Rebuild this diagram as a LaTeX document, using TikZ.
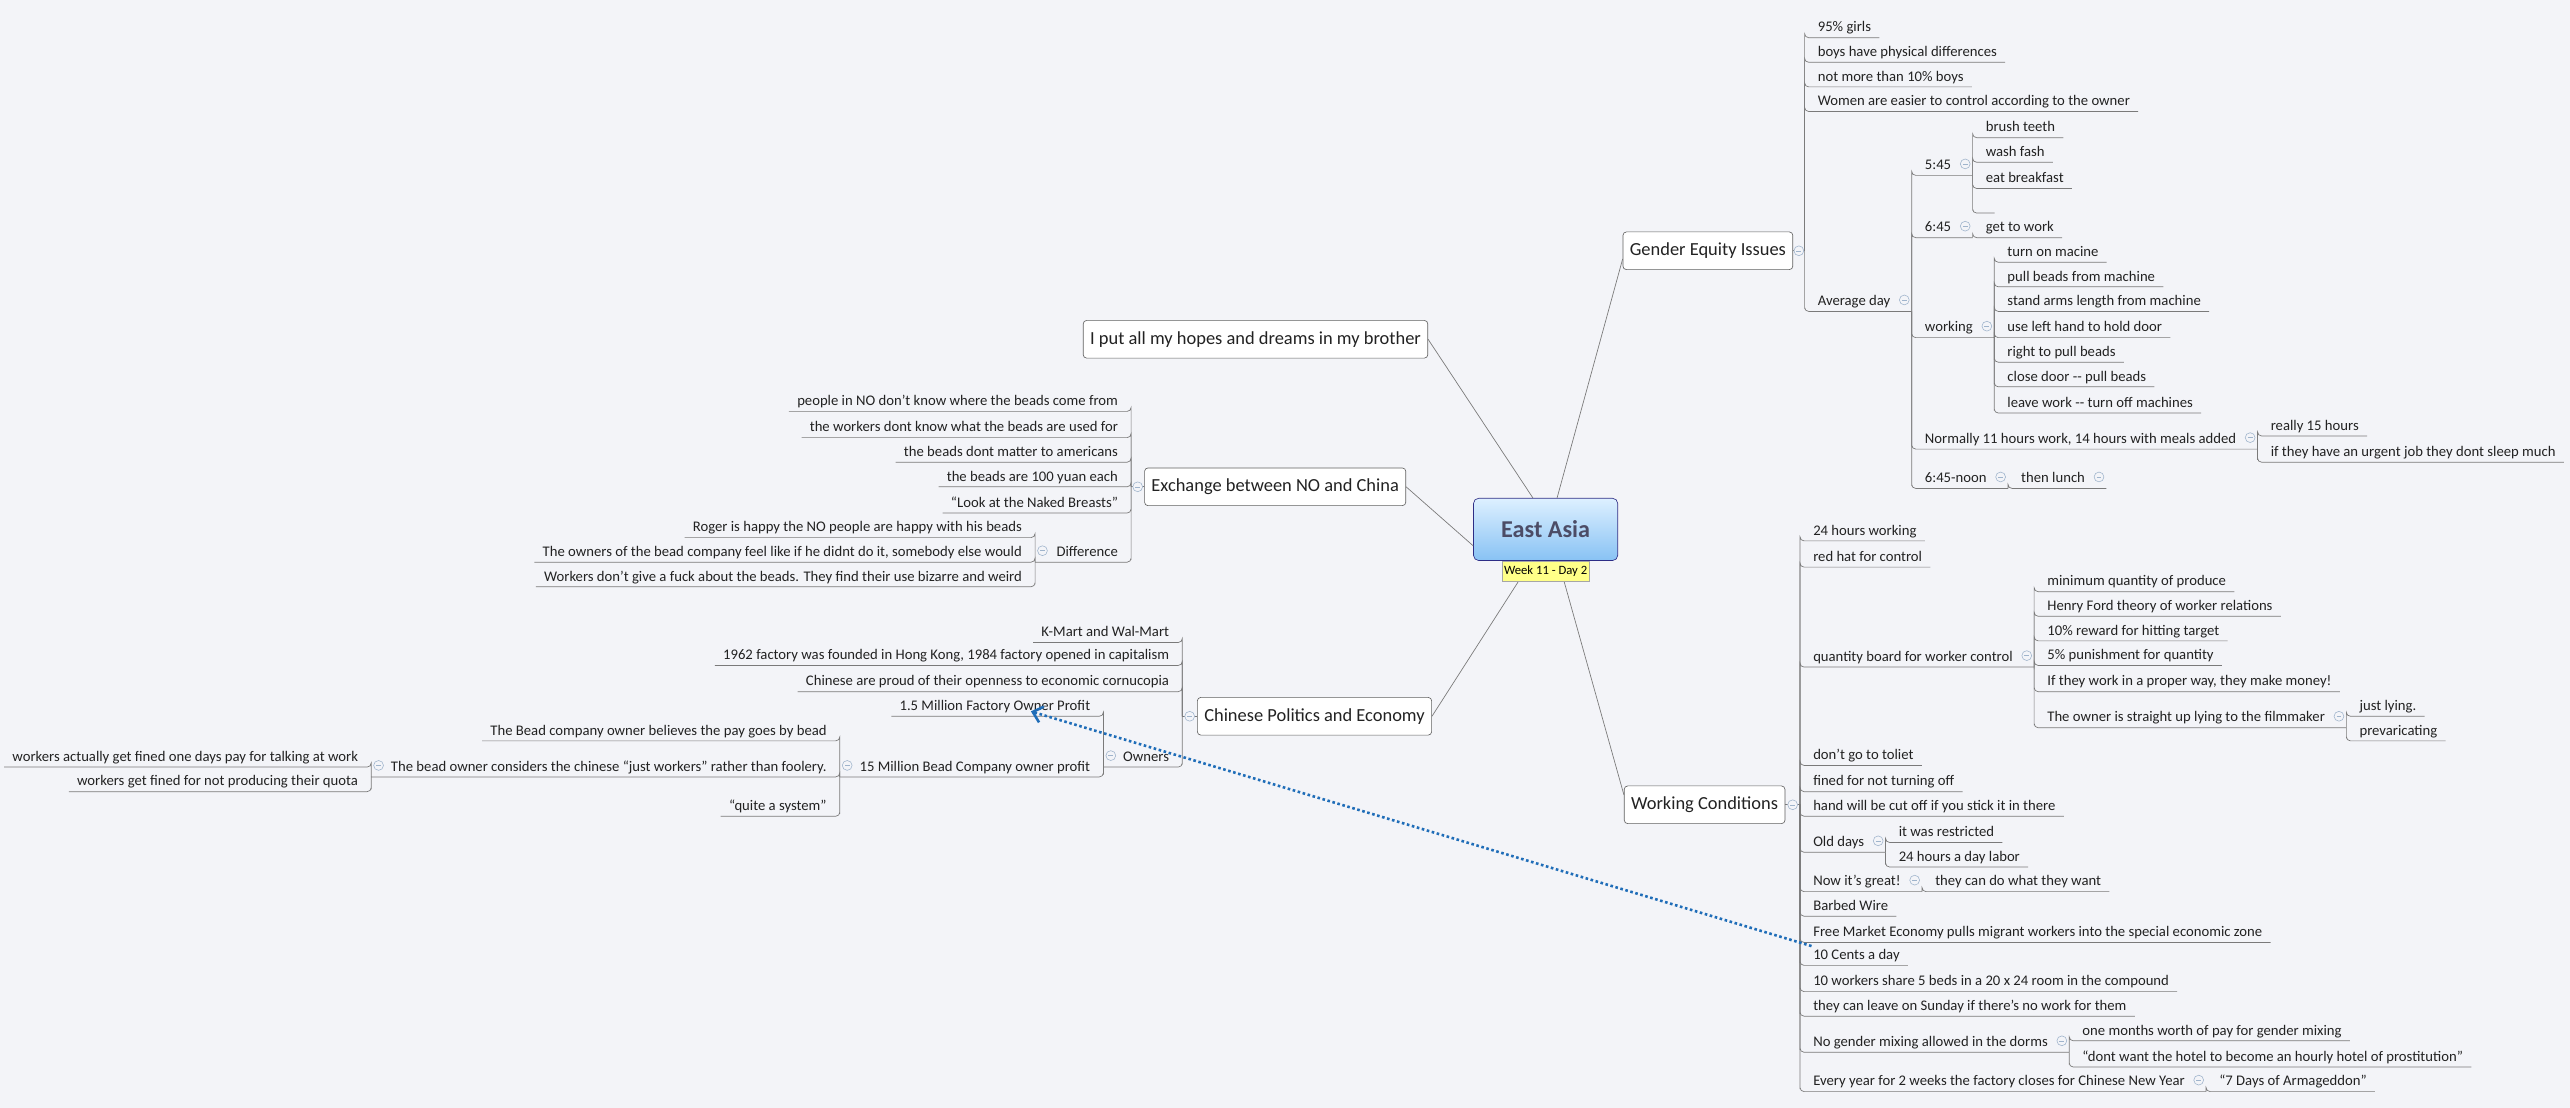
\documentclass[tikz,border=0pt]{standalone}
\usepackage{fontspec}
\setmainfont{Carlito}
\usetikzlibrary{calc,arrows.meta,shadows}
\definecolor{bg}{HTML}{F3F4F8}
\definecolor{ln}{HTML}{7A7A7A}
\definecolor{txt}{HTML}{222222}
\definecolor{collc}{HTML}{9FB4CC}
\definecolor{arrc}{HTML}{1F6DB8}
\definecolor{ctop}{HTML}{DDF0FF}
\definecolor{cbot}{HTML}{88C2F4}
\definecolor{wk}{HTML}{FFFF88}
\tikzset{
 leaf/.style={inner sep=0pt,font=\fontsize{25.5}{30}\selectfont,text=txt},
 conn/.style={draw=ln,line width=1.2pt},
 topic/.style={draw=gray!75!black,fill=white,rounded corners=6pt,font=\fontsize{32}{38}\selectfont,text=txt,inner xsep=0.42cm,minimum height=2.3cm,line width=1.1pt},
 central/.style={draw=gray!50!blue!70!black,top color=ctop,bottom color=cbot,rounded corners=9pt,font=\bfseries\fontsize{42}{48}\selectfont,text=black!75!blue!40!gray,minimum width=8.8cm,minimum height=3.8cm,line width=1.1pt},
 weekl/.style={draw=gray!70,fill=wk,font=\fontsize{22}{26}\selectfont,inner xsep=0.12cm,minimum height=1.2cm,line width=0.8pt},
 coll/.style={draw=collc,fill=bg,line width=1pt},
 arrowc/.style={draw=arrc,line width=4.5pt,dash pattern=on 4.5pt off 4.5pt,-{Straight Barb[length=0.55cm,width=1.0cm]}}
}
\makeatletter
\def\rleaf{\@ifnextchar[\rleaf@i{\rleaf@i[0.5cm]}}
\def\rleaf@i[#1]#2#3#4#5{%
 \coordinate (#2y) at (0,#4);
 \coordinate (#2ul) at (#3 |- #2y);
 \node[leaf,anchor=base west] (#2) at ($(#2ul)+(8,-3.5)$) {#5};
 \coordinate (#2e) at ([xshift=#1]#2.east |- #2ul);
 \draw[conn,rounded corners=7pt] (#3) |- (#2ul) -- (#2e);}
\def\lleaf{\@ifnextchar[\lleaf@i{\lleaf@i[0.5cm]}}
\def\lleaf@i[#1]#2#3#4#5{%
 \coordinate (#2y) at (0,#4);
 \coordinate (#2ul) at (#3 |- #2y);
 \node[leaf,anchor=base east] (#2) at ($(#2ul)+(-8,-3.5)$) {#5};
 \coordinate (#2e) at ([xshift=-#1]#2.west |- #2ul);
 \draw[conn,rounded corners=7pt] (#3) |- (#2ul) -- (#2e);}
\makeatother
\newcommand\rcoll[1]{\draw[coll] ($(#1e)+(-4.5,-7)$) circle (0.3cm); \draw[collc,line width=0.9pt] ($(#1e)+(-6,-7)$) -- ($(#1e)+(-3,-7)$);}
\newcommand\lcoll[1]{\draw[coll] ($(#1e)+(4.5,-7)$) circle (0.3cm); \draw[collc,line width=0.9pt] ($(#1e)+(6,-7)$) -- ($(#1e)+(3,-7)$);}
\newcommand\pcoll[1]{\draw[coll] (#1) circle (0.3cm); \draw[collc,line width=0.9pt] ($(#1)+(-1.5,0)$) -- ($(#1)+(1.5,0)$);}
\begin{document}
\begin{tikzpicture}[x=0.1cm,y=-0.1cm]
\useasboundingbox[fill=bg] (0,0) rectangle (1568,676);
% main boxes
\node[central] (ea) at (943,323) {East Asia};
\node[topic] (gen) at (1042,153) {Gender Equity Issues};
\node[topic] (wc) at (1040,491) {Working Conditions};
\node[topic] (hope) at (766,207) {I put all my hopes and dreams in my brother};
\node[topic] (exch) at (778,297) {Exchange between NO and China};
\node[topic] (chin) at (802,437) {Chinese Politics and Economy};
\draw[conn] (ea.70) -- ([yshift=-0.5cm]gen.west);
\draw[conn] (ea.-68) -- ([yshift=0.6cm]wc.west);
\draw[conn] (ea.112) -- (hope.east);
\draw[conn] ([yshift=-1cm]ea.west) -- (exch.east);
\draw[conn] (ea.-114) -- (chin.east);
\node[weekl,anchor=north] (wkl) at (943,342.3) {Week 11 - Day 2};
% joints
\coordinate (gj) at ($(gen.east)+(7,0)$);
\coordinate (wj) at ($(wc.east)+(9,0)$);
\coordinate (ej) at ($(exch.west)+(-8,0)$);
\coordinate (cj) at ($(chin.west)+(-9,0)$);
\draw[conn] (gen.east) -- (gj); \draw[conn] (wc.east) -- (wj);
\draw[conn] (exch.west) -- (ej); \draw[conn] (chin.west) -- (cj);
\pcoll{$(gen.east)+(3.5,0)$} \pcoll{$(wc.east)+(4.5,0)$}
\pcoll{$(exch.west)+(-4,0)$} \pcoll{$(chin.west)+(-4.5,0)$}
% Gender
\rleaf{g1}{gj}{23}{95\% girls}
\rleaf{g2}{gj}{38}{boys have physical differences}
\rleaf{g3}{gj}{53}{not more than 10\% boys}
\rleaf{g4}{gj}{68}{Women are easier to control according to the owner}
\rleaf[1.3cm]{avg}{gj}{190}{Average day}\rcoll{avg}
\rleaf[1.3cm]{ta}{avge}{107}{5:45}\rcoll{ta}
\rleaf{b1}{tae}{84}{brush teeth}
\rleaf{b2}{tae}{99}{wash fash}
\rleaf{b3}{tae}{115}{eat breakfast}
\rleaf{b4}{tae}{130}{}
\rleaf[1.3cm]{tb}{avge}{145}{6:45}\rcoll{tb}
\rleaf{gw}{tbe}{145}{get to work}
\rleaf[1.3cm]{wk}{avge}{206}{working}\rcoll{wk}
\rleaf{w1}{wke}{160}{turn on macine}
\rleaf{w2}{wke}{175}{pull beads from machine}
\rleaf{w3}{wke}{190}{stand arms length from machine}
\rleaf{w4}{wke}{206}{use left hand to hold door}
\rleaf{w5}{wke}{221}{right to pull beads}
\rleaf{w6}{wke}{236}{close door -{}- pull beads}
\rleaf{w7}{wke}{252}{leave work -{}- turn off machines}
\rleaf[1.3cm]{nm}{avge}{274}{Normally 11 hours work, 14 hours with meals added}\rcoll{nm}
\rleaf{n1}{nme}{266}{really 15 hours}
\rleaf{n2}{nme}{282}{if they have an urgent job they dont sleep much}
\rleaf[1.3cm]{nn}{avge}{298}{6:45-noon}\rcoll{nn}
\rleaf[1.3cm]{lu}{nne}{298}{then lunch}\rcoll{lu}
% Working conditions
\rleaf{c1}{wj}{330}{24 hours working}
\rleaf{c2}{wj}{346}{red hat for control}
\rleaf[1.3cm]{qb}{wj}{407}{quantity board for worker control}\rcoll{qb}
\rleaf{q1}{qbe}{361}{minimum quantity of produce}
\rleaf{q2}{qbe}{376}{Henry Ford theory of worker relations}
\rleaf{q3}{qbe}{391}{10\% reward for hitting target}
\rleaf{q4}{qbe}{406}{5\% punishment for quantity}
\rleaf{q5}{qbe}{422}{If they work in a proper way, they make money!}
\rleaf[1.3cm]{ow}{qbe}{444}{The owner is straight up lying to the filmmaker}\rcoll{ow}
\rleaf{o1}{owe}{437}{just lying.}
\rleaf{o2}{owe}{452}{prevaricating}
\rleaf{c4}{wj}{467}{don't go to toliet}
\rleaf{c5}{wj}{483}{fined for not turning off}
\rleaf{c6}{wj}{498}{hand will be cut off if you stick it in there}
\rleaf[1.3cm]{od}{wj}{520}{Old days}\rcoll{od}
\rleaf{od1}{ode}{514}{it was restricted}
\rleaf{od2}{ode}{529}{24 hours a day labor}
\rleaf[1.3cm]{nw}{wj}{544}{Now it's great!}\rcoll{nw}
\rleaf{nw1}{nwe}{544}{they can do what they want}
\rleaf{bw}{wj}{559}{Barbed Wire}
\rleaf{fm}{wj}{575}{Free Market Economy pulls migrant workers into the special economic zone}
\rleaf{ten}{wj}{589}{10 Cents a day}
\rleaf{bed}{wj}{605}{10 workers share 5 beds in a 20 x 24 room in the compound}
\rleaf{sun}{wj}{620}{they can leave on Sunday if there's no work for them}
\rleaf[1.3cm]{gm}{wj}{642}{No gender mixing allowed in the dorms}\rcoll{gm}
\rleaf{gm1}{gme}{635}{one months worth of pay for gender mixing}
\rleaf{gm2}{gme}{651}{``dont want the hotel to become an hourly hotel of prostitution''}
\rleaf[1.3cm]{ev}{wj}{666}{Every year for 2 weeks the factory closes for Chinese New Year}\rcoll{ev}
\rleaf{arm}{eve}{666}{``7 Days of Armageddon''}
% Exchange
\lleaf{e1}{ej}{251}{people in NO don't know where the beads come from}
\lleaf{e2}{ej}{267}{the workers dont know what the beads are used for}
\lleaf{e3}{ej}{282}{the beads dont matter to americans}
\lleaf{e4}{ej}{297}{the beads are 100 yuan each}
\lleaf{e5}{ej}{313}{``Look at the Naked Breasts''}
\lleaf[1.3cm]{df}{ej}{343}{Difference}\lcoll{df}
\lleaf{d1}{dfe}{328}{Roger is happy the NO people are happy with his beads}
\lleaf{d2}{dfe}{343}{The owners of the bead company feel like if he didnt do it, somebody else would}
\lleaf{d3}{dfe}{358}{Workers don't give a fuck about the beads. They find their use bizarre and weird}
% Chinese politics
\lleaf{k1}{cj}{392}{K-Mart and Wal-Mart}
\lleaf{k2}{cj}{406}{1962 factory was founded in Hong Kong, 1984 factory opened in capitalism}
\lleaf{k3}{cj}{422}{Chinese are proud of their openness to economic cornucopia}
\lleaf[1.2cm]{own}{cj}{468}{Owners}\lcoll{own}
\lleaf{m1}{owne}{437}{1.5 Million Factory Owner Profit}
\lleaf[1.2cm]{m2}{owne}{474}{15 Million Bead Company owner profit}\lcoll{m2}
\lleaf{p1}{m2e}{452}{The Bead company owner believes the pay goes by bead}
\lleaf[1.2cm]{p2}{m2e}{474}{The bead owner considers the chinese ``just workers'' rather than foolery.}\lcoll{p2}
\lleaf{p3}{m2e}{498}{``quite a system''}
\lleaf{x1}{p2e}{468}{workers actually get fined one days pay for talking at work}
\lleaf{x2}{p2e}{483}{workers get fined for not producing their quota}
% relationship arrow
\draw[arrowc] ($(ten.north west)+(-1,-2)$) -- ($(m1.south)+(22,-1)$);
\end{tikzpicture}
\end{document}
